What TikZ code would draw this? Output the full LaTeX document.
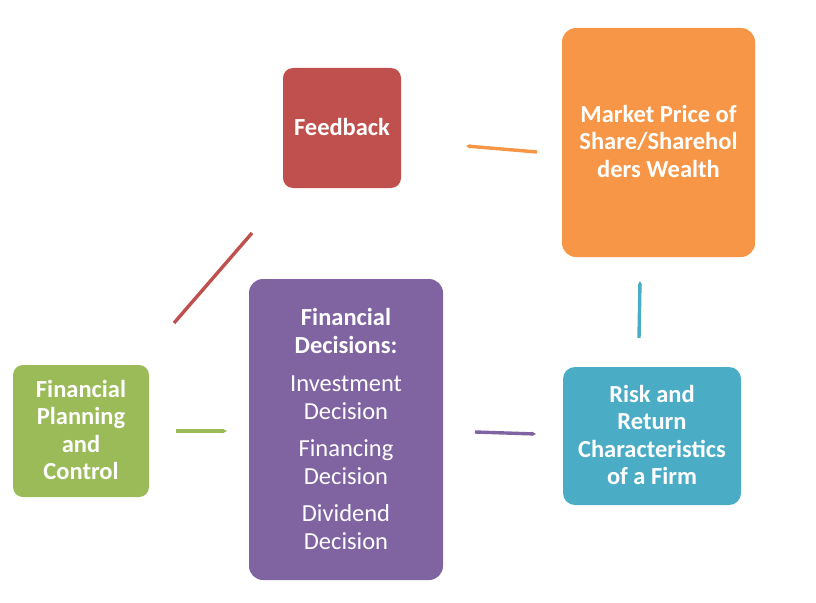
\documentclass[tikz,border=0pt]{standalone}
\usepackage{fontspec}
\setmainfont{Carlito}
\usetikzlibrary{arrows.meta}
\definecolor{cred}{HTML}{C0504D}
\definecolor{corange}{HTML}{F79646}
\definecolor{cgreen}{HTML}{9BBB59}
\definecolor{cpurple}{HTML}{8064A2}
\definecolor{cteal}{HTML}{4BACC6}
\begin{document}
\begin{tikzpicture}[x=1pt,y=-1pt,
  box/.style={rounded corners=12pt, inner sep=0pt, text=white, align=center,
    font=\fontsize{24.5}{27.5}\selectfont},
  conn/.style={line width=3.4pt, -{Stealth[length=4.5pt,width=4.5pt]}}]
\useasboundingbox (0,0) rectangle (816,602);
% boxes
\path[fill=cred, rounded corners=10pt] (283,68) rectangle (401,188);
\node[box] (fb) at (342,127) {\textbf{Feedback}};
\path[fill=corange, rounded corners=14pt] (562,28) rectangle (755,257);
\node[box] (mp) at (658.5,141) {\textbf{Market Price of}\\\textbf{Share/Sharehol}\\\textbf{ders Wealth}};
\path[fill=cgreen, rounded corners=10pt] (13,365) rectangle (149,497);
\node[box] (fp) at (81,430) {\textbf{Financial}\\\textbf{Planning}\\\textbf{and}\\\textbf{Control}};
\path[fill=cpurple, rounded corners=14pt] (249,279) rectangle (443,580);
\node[box] (fd) at (346,429) {\textbf{Financial}\\\textbf{Decisions:}\\[11pt]Investment\\Decision\\[10pt]Financing\\Decision\\[10pt]Dividend\\Decision};
\path[fill=cteal, rounded corners=12pt] (563,367) rectangle (741,505);
\node[box] (rr) at (652,435) {\textbf{Risk and}\\\textbf{Return}\\\textbf{Characteristics}\\\textbf{of a Firm}};
% connector end points
\coordinate (a1) at (174,323); \coordinate (a2) at (252,233);
\coordinate (b1) at (176,431); \coordinate (b2) at (227,431);
\coordinate (c1) at (475,432); \coordinate (c2) at (536,434);
\coordinate (d1) at (639,338); \coordinate (d2) at (640,281);
\coordinate (e1) at (537,152); \coordinate (e2) at (466,146);
\draw[line width=3.4pt, cred] (a1) -- (a2);
\draw[conn, cgreen] (b1) -- (b2);
\draw[conn, cpurple] (c1) -- (c2);
\draw[conn, cteal] (d1) -- (d2);
\draw[conn, corange] (e1) -- (e2);
\end{tikzpicture}
\end{document}
